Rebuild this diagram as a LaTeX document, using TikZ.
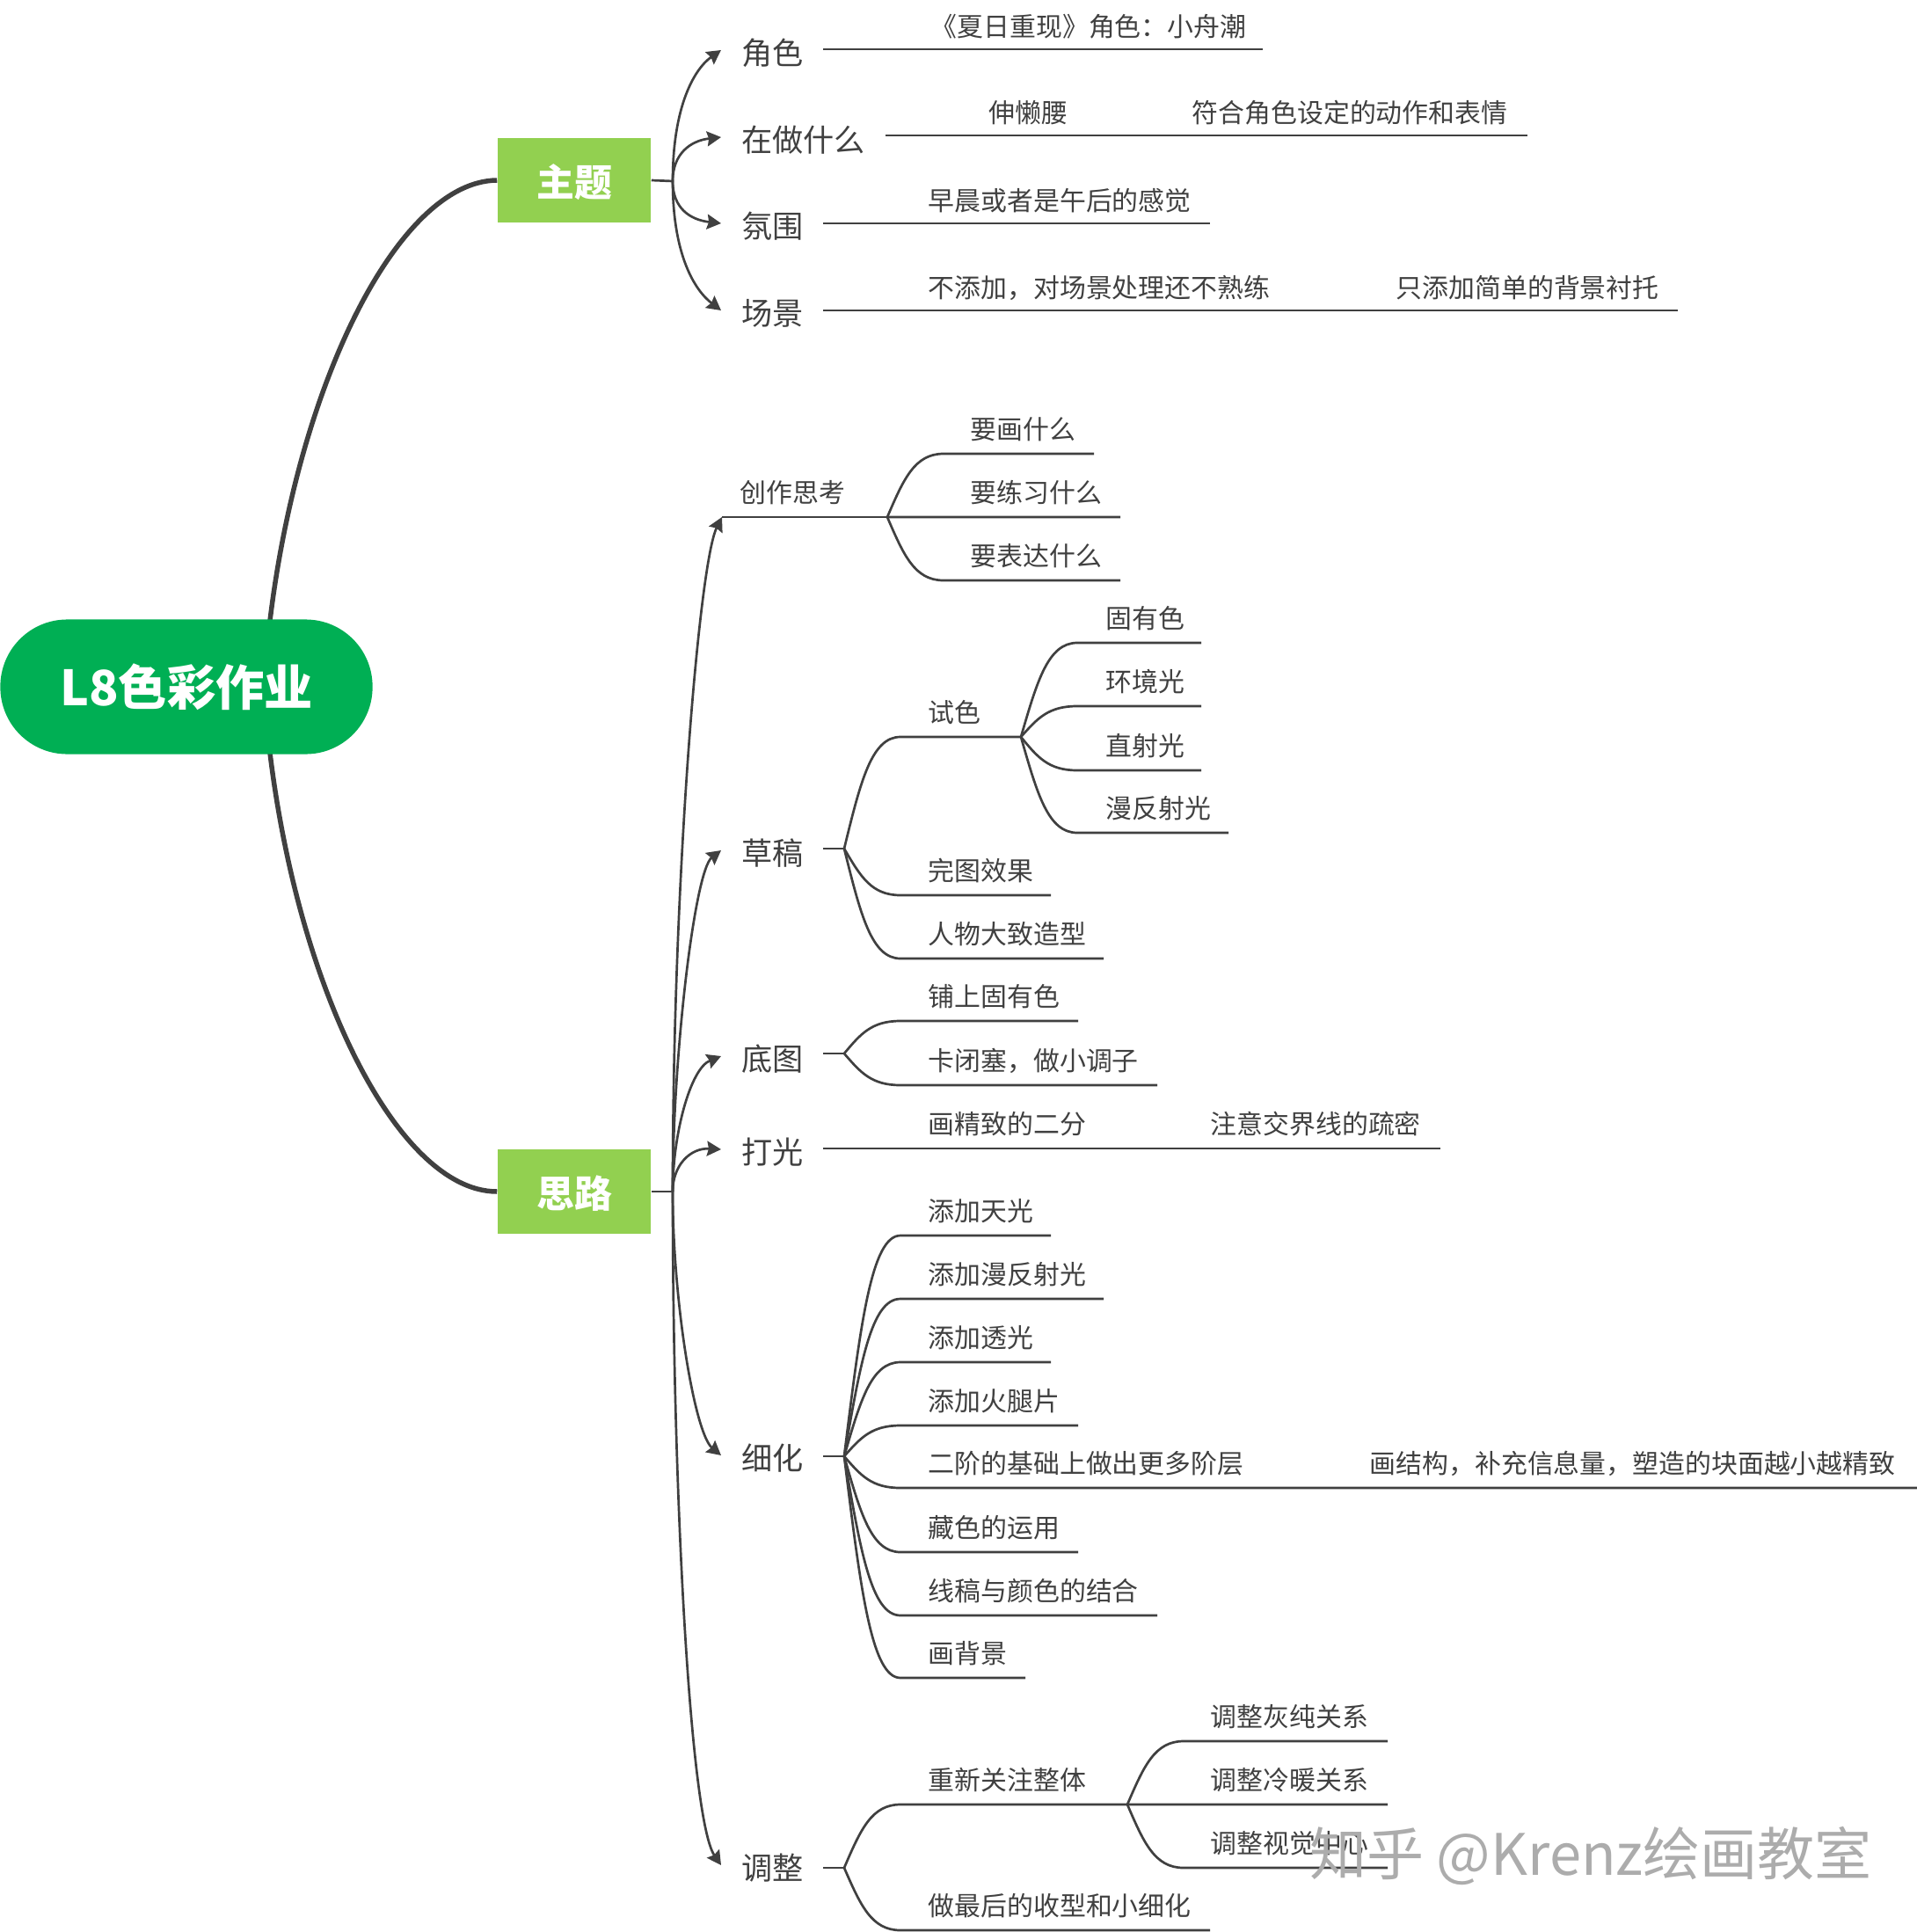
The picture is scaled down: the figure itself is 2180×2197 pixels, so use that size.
\documentclass[tikz,border=0pt]{standalone}
\usepackage{fontspec}
\setmainfont{Noto Sans CJK SC}
\usetikzlibrary{arrows.meta,calc}

\definecolor{inkgray}{HTML}{404040}
\definecolor{rootgreen}{HTML}{00AF54}
\definecolor{boxgreen}{HTML}{92D050}

% hub, corner x, text x, then name/line y/line end/text
\newcommand{\leaves}[4]{%
	\foreach \n/\y/\e/\txt in {#4} {
		\node[leaf] (\n) at (#3,\y) {\txt};
		\coordinate (\n-e) at (\e,\y);
		\draw[branch] (#1) .. controls ($(#1)!0.6!(#2,\y)$) and (#2,\y) .. (#2+33,\y) -- (\n.south west) -- (\n-e);
	}
}

\begin{document}
\begin{tikzpicture}
	[
		x=0.01cm, y=-0.01cm,
		rootnode/.style = {rectangle, fill=rootgreen, text=white, rounded corners=0.76cm, minimum width=4.23cm, minimum height=1.53cm, inner sep=0, font=\fontsize{15.7}{18}\selectfont\bfseries},
		themebox/.style = {rectangle, fill=boxgreen, text=white, minimum width=1.74cm, minimum height=0.95cm, inner sep=0, text height=1.15em, text depth=0.12em, font=\fontsize{12.2}{14}\selectfont\bfseries},
		topic/.style = {anchor=west, inner ysep=0, inner xsep=0, outer xsep=0.23cm, outer ysep=0, text=inkgray, text height=1.08em, text depth=0.12em, font=\fontsize{10}{12}\selectfont},
		leaf/.style = {anchor=south west, inner xsep=0, inner ysep=0.12cm, text=inkgray, text height=0.88em, text depth=0.12em, font=\fontsize{8.5}{10}\selectfont},
		topleaf/.style = {leaf, inner ysep=0.10cm},
		branch/.style = {draw=inkgray, line width=0.027cm},
		arrowbranch/.style = {draw=inkgray, line width=0.027cm, -{Stealth[length=0.16cm,width=0.17cm,inset=0.02cm]}},
		mainbranch/.style = {draw=inkgray, line width=0.055cm},
		watermark/.style = {text=gray!65, inner sep=0, font=\fontsize{18.5}{20}\selectfont},
	]
	\useasboundingbox (0,0) rectangle (2180,2197);

	% main boxes
	\node[themebox] (zhuti) at (653,205) {主题};
	\node[themebox] (silu) at (653,1355) {思路};

	\coordinate (rootHub) at (300,781);
	\draw[mainbranch] (rootHub) .. controls (320,472) and (445,206) .. (zhuti.west);
	\draw[mainbranch] (rootHub) .. controls (320,1090) and (445,1355) .. (silu.west);
	\node[rootnode] (root) at (212,781) {L8色彩作业};

	\coordinate (zhutiHub) at (765,206);
	\coordinate (siluHub) at (765,1355);
	\draw[branch] (zhuti.east) -- (zhutiHub);
	\draw[branch] (silu.east) -- (siluHub);

	% first tree
	\foreach \n/\y/\ca/\cx/\cb/\txt in {juese/57/120/790/78/角色,zuoshenme/156/175/785/160/在做什么,fenwei/254/237/785/250/氛围,changjing/353/290/790/330/场景}
	{
		\node[topic] (\n) at (820,\y) {\txt};
		\draw[arrowbranch] (zhutiHub) .. controls (765,\ca) and (\cx,\cb) .. (\n.west);
	}
	\foreach \n/\from/\x/\y/\e/\txt in {a1/juese/1058/56/1436/《夏日重现》角色：小舟潮,a2/zuoshenme/1124/154/1737/伸懒腰,a3/fenwei/1055/254/1376/早晨或者是午后的感觉,a4/changjing/1055/353/1908/不添加，对场景处理还不熟练}
	{
		\node[topleaf] (\n) at (\x,\y) {\txt};
		\coordinate (\n-e) at (\e,\y);
		\draw[branch] (\from.east |- \n.south west) -- (\n-e);
	}
	\node[topleaf] (a2b) at (1355,154) {符合角色设定的动作和表情};
	\node[topleaf] (a4b) at (1587,353) {只添加简单的背景衬托};

	% second tree
	\coordinate (chuangzuoTip) at (821,588);
	\coordinate (chuangzuoHub) at (1009,588);
	\node[leaf] (chuangzuo) at (841,588) {创作思考};
	\draw[arrowbranch] (siluHub) .. controls (765,1000) and (795,640) .. (chuangzuoTip);
	\draw[branch] (chuangzuoTip) -- (chuangzuoHub);
	\leaves{chuangzuoHub}{1040}{1103}{b1/516/1244/要画什么,b2/588/1274/要练习什么,b3/660/1274/要表达什么}

	\foreach \n/\y/\ca/\cx/\cb/\hy/\txt in {caogao/967/1200/790/990/965/草稿,ditu/1201/1290/785/1215/1198/底图,xihua/1655/1480/790/1630/1656/细化,tiaozheng/2121/1700/785/2070/2124/调整}
	{
		\node[topic] (\n) at (820,\y) {\txt};
		\draw[arrowbranch] (siluHub) .. controls (765,\ca) and (\cx,\cb) .. (\n.west);
		\coordinate (\n-hub) at (960,\hy);
		\draw[branch] (\n.east |- \n-hub) -- (\n-hub);
	}

	\leaves{caogao-hub}{991}{1055}{c1/838/1161/试色,c2/1018/1195/完图效果,c3/1090/1255/人物大致造型}
	\coordinate (shiseHub) at (1161,838);
	\leaves{shiseHub}{1192}{1257}{c4/731/1366/固有色,c5/803/1366/环境光,c6/876/1366/直射光,c7/947/1397/漫反射光}

	\leaves{ditu-hub}{991}{1055}{d1/1161/1226/铺上固有色,d2/1234/1316/卡闭塞，做小调子}

	\node[topic] (daguang) at (820,1307) {打光};
	\draw[arrowbranch] (siluHub) .. controls (765,1325) and (785,1305) .. (daguang.west);
	\node[leaf] (e1) at (1055,1306) {画精致的二分};
	\node[leaf] (e2) at (1376,1306) {注意交界线的疏密};
	\coordinate (e1-e) at (1638,1306);
	\draw[branch] (daguang.east |- e1.south west) -- (e1-e);

	\leaves{xihua-hub}{991}{1055}{f1/1405/1195/添加天光,f2/1477/1255/添加漫反射光,f3/1549/1195/添加透光,f4/1621/1226/添加火腿片,f5/1692/2180/二阶的基础上做出更多阶层,f6/1765/1226/藏色的运用,f7/1837/1316/线稿与颜色的结合,f8/1908/1166/画背景}
	\node[leaf] (f5b) at (1557,1692) {画结构，补充信息量，塑造的块面越小越精致};

	\leaves{tiaozheng-hub}{991}{1055}{g1/2052/1282/重新关注整体,g2/2195/1376/做最后的收型和小细化}
	\coordinate (zhengtiHub) at (1282,2052);
	\leaves{zhengtiHub}{1313}{1376}{g3/1980/1578/调整灰纯关系,g4/2052/1578/调整冷暖关系,g5/2124/1578/调整视觉中心}

	\node[watermark] (mark) at (1809,2110) {知乎 @Krenz绘画教室};
\end{tikzpicture}
\end{document}
